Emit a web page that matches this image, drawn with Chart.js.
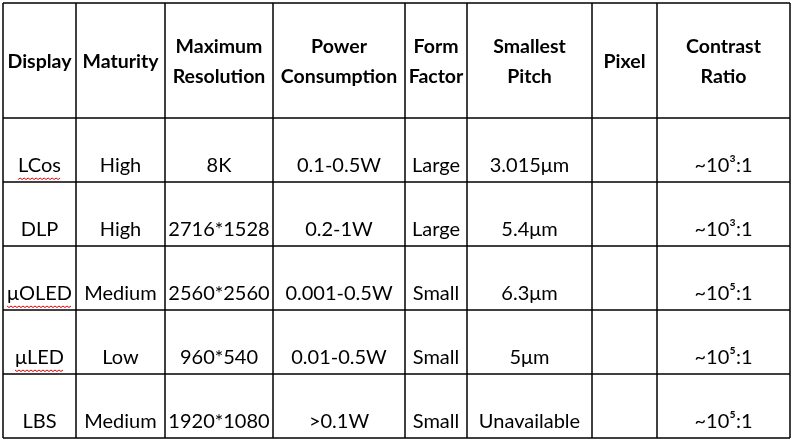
<!DOCTYPE html>
<html>
<head>
<meta charset="utf-8">
<script src="https://cdn.jsdelivr.net/npm/chart.js@4/dist/chart.umd.min.js"></script>
<style>body{margin:0;background:#fff}canvas{display:block}</style>
</head>
<body>
<canvas id="tbl" width="793" height="442"></canvas>
<script>
// Table content
const headers = [['Display'], ['Maturity'], ['Maximum', 'Resolution'], ['Power', 'Consumption'], ['Form', 'Factor'], ['Smallest', 'Pitch'], ['Pixel'], ['Contrast', 'Ratio']];
const displays = ['LCos', 'DLP', 'μOLED', 'μLED', 'LBS'];
const maturity = ['High', 'High', 'Medium', 'Low', 'Medium'];
const resolution = ['8K', '2716*1528', '2560*2560', '960*540', '1920*1080'];
const power = ['0.1-0.5W', '0.2-1W', '0.001-0.5W', '0.01-0.5W', '>0.1W'];
const formFactor = ['Large', 'Large', 'Small', 'Small', 'Small'];
const pitch = ['3.015μm', '5.4μm', '6.3μm', '5μm', 'Unavailable'];
const pixel = ['', '', '', '', ''];
const contrast = ['~10³:1', '~10³:1', '~10⁵:1', '~10⁵:1', '~10⁵:1'];
const columns = [displays, maturity, resolution, power, formFactor, pitch, pixel, contrast];
const spellFlag = ['LCos', 'μOLED', 'μLED'];

// grid lines in table coordinates
const colEdges = [3, 76, 165, 273, 405, 467, 592, 657, 790];
const rowEdges = [3, 118, 182, 246, 310, 374, 438];
const FONT = 'Lato, "Open Sans", sans-serif';

const tablePlugin = {
    id: 'tablePlugin',
    afterDraw(chart) {
        const c = chart.ctx, sx = chart.scales.x, sy = chart.scales.y;
        const X = v => sx.getPixelForValue(v), Y = v => sy.getPixelForValue(v);
        c.save();
        c.strokeStyle = '#000';
        c.lineWidth = 1.5;
        colEdges.forEach(v => { c.beginPath(); c.moveTo(X(v), Y(rowEdges[0])); c.lineTo(X(v), Y(rowEdges[rowEdges.length - 1])); c.stroke(); });
        rowEdges.forEach(v => { c.beginPath(); c.moveTo(X(colEdges[0]), Y(v)); c.lineTo(X(colEdges[colEdges.length - 1]), Y(v)); c.stroke(); });
        c.fillStyle = '#000';
        c.textAlign = 'center';
        c.textBaseline = 'middle';
        // header
        c.font = 'bold 19.5px ' + FONT;
        headers.forEach((lines, i) => {
            const cx = (X(colEdges[i]) + X(colEdges[i + 1])) / 2;
            const cy = (Y(rowEdges[0]) + Y(rowEdges[1])) / 2 + 1;
            lines.forEach((t, k) => c.fillText(t, cx, cy + (k - (lines.length - 1) / 2) * 30));
        });
        // body
        c.font = '20px ' + FONT;
        columns.forEach((col, i) => {
            const cx = (X(colEdges[i]) + X(colEdges[i + 1])) / 2;
            col.forEach((t, r) => {
                const cy = Y(rowEdges[r + 2]) - 16;
                c.fillText(t, cx, cy);
                if (i === 0 && spellFlag.includes(t)) {
                    const w = c.measureText(t).width;
                    c.strokeStyle = '#d00';
                    c.lineWidth = 1;
                    c.beginPath();
                    for (let x = cx - w / 2; x <= cx + w / 2; x += 2) {
                        const yy = cy + 12 + ((Math.round((x - cx) / 2) % 2) ? 1.5 : 0);
                        x === cx - w / 2 ? c.moveTo(x, yy) : c.lineTo(x, yy);
                    }
                    c.stroke();
                    c.strokeStyle = '#000';
                    c.lineWidth = 1.5;
                }
            });
        });
        c.restore();
    }
};

new Chart(document.getElementById('tbl'), {
    type: 'scatter',
    data: { datasets: [{ data: [] }] },
    options: {
        responsive: false,
        animation: false,
        layout: { padding: 0 },
        plugins: { legend: { display: false }, tooltip: { enabled: false } },
        scales: {
            x: { type: 'linear', min: 0, max: 793, display: false },
            y: { type: 'linear', min: 0, max: 442, reverse: true, display: false }
        }
    },
    plugins: [tablePlugin]
});
</script>
</body>
</html>
